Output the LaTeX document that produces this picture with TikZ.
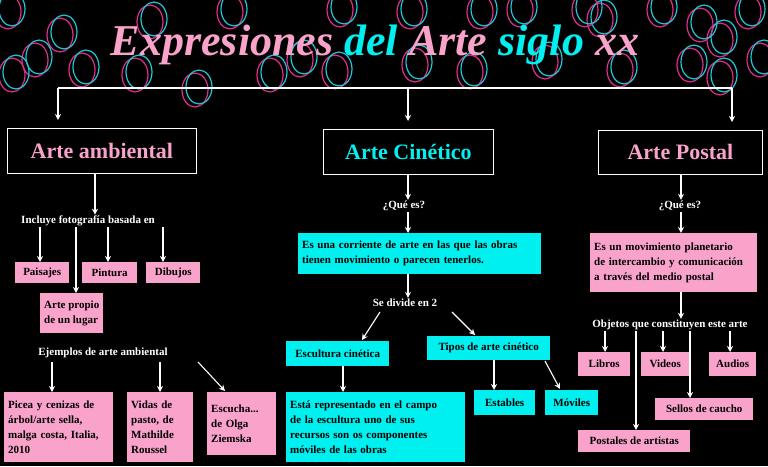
\documentclass[tikz,border=0pt]{standalone}
\usepackage{fontspec}
\setmainfont{Liberation Serif}
\usetikzlibrary{arrows.meta}
\begin{document}
\begin{tikzpicture}[x=1pt,y=-1pt,
  pnk/.style={fill=pinkc,draw=none,text=black,font=\bfseries\fontsize{11}{15}\selectfont,align=left,inner sep=4pt,anchor=north west},
  cyb/.style={fill=cyanc,draw=none,text=black,font=\bfseries\fontsize{11}{15}\selectfont,align=left,inner sep=4pt,anchor=north west},
  lbl/.style={text=white,font=\bfseries\fontsize{11}{13}\selectfont,inner sep=1pt},
  head/.style={draw=white,line width=0.8pt,anchor=north west},
  htxt/.style={font=\bfseries\fontsize{22}{24}\selectfont},
  arr/.style={draw=white,line width=1.1pt,-{Stealth[length=6pt,width=6pt]}},
  ring/.style={line width=1.2pt}]
\definecolor{pinkc}{HTML}{F9A3CB}
\definecolor{cyanc}{HTML}{00F0F0}
\definecolor{ringp}{HTML}{E0308A}
\definecolor{ringc}{HTML}{20C8D8}
\fill[black] (0,0) rectangle (768,466);
\useasboundingbox (0,0) rectangle (768,466);
% background rings
\foreach \x/\y in {8/12,60/35,35/60,82/70,12/75,150/22,195/90,135/75,270/75,300/60,340/10,335/72,415/65,410/12,470/72,480/12,520/10,545/62,600/20,620/70,660/10,690/65,720/40,748/12,760/60,585/10,700/25,230/12,720/78}{
  \draw[ringp,ring] (\x,\y) ellipse (13 and 17);
  \draw[ringc,ring] (\x+4,\y-3) ellipse (13 and 17);
}
% title
\node[font=\bfseries\itshape\fontsize{44}{46}\selectfont, inner sep=0pt] (title) at (375,45)
  {\textcolor{pinkc}{Expresiones} \textcolor{cyanc}{del} \textcolor{pinkc}{Arte} \textcolor{cyanc}{siglo} \textcolor{pinkc}{xx}};
% headers
\node[head,minimum width=189pt,minimum height=45pt] (amb) at (7,128) {};
\node[htxt,text=pinkc] at (amb.center) {Arte ambiental};
\node[head,minimum width=170pt,minimum height=45pt] (cin) at (323,129) {};
\node[htxt,text=cyanc] at (cin.center) {Arte Cinético};
\node[head,minimum width=164pt,minimum height=44pt] (pos) at (598,130) {};
\node[htxt,text=pinkc] at (pos.center) {Arte Postal};
\coordinate (tl) at (58,88); \coordinate (tm) at (408,88); \coordinate (tr) at (732,88);
\draw[white,line width=1.1pt] (tl) -- (tr);
\draw[arr] (tl) -- (58,120);
\draw[arr] (tm) -- (408,121);
\draw[arr] (tr) -- (732,122);
% ambiental
\node[lbl] (inc) at (88,221) {Incluye fotografía basada en};
\draw[arr] (95,174) -- (inc.north -| 95,0);
\node[pnk,minimum width=54pt,minimum height=21pt,align=center] (pai) at (15,262) {Paisajes};
\node[pnk,minimum width=55pt,minimum height=21pt,align=center] (pin) at (82,262) {Pintura};
\node[pnk,minimum width=54pt,minimum height=21pt,align=center] (dib) at (146,262) {Dibujos};
\node[pnk,minimum height=40pt] (pro) at (40,293) {Arte propio\\de un lugar};
\draw[arr] (inc.south -| 40,0) -- (pai.north -| 40,0);
\draw[arr] (inc.south -| 108,0) -- (pin.north -| 108,0);
\draw[arr] (inc.south -| 163,0) -- (dib.north -| 163,0);
\draw[arr] (inc.south -| 76,0) -- (pro.north -| 76,0);
\node[lbl] (eje) at (103,353) {Ejemplos de arte ambiental};
\node[pnk,minimum height=70pt,text width=101pt] (pic) at (4,392) {Picea y cenizas de\\árbol/arte sella,\\malga costa, Italia,\\2010};
\node[pnk,minimum height=70pt,text width=58pt] (vid) at (127,392) {Vidas de\\pasto, de\\Mathilde\\Roussel};
\node[pnk,minimum height=63pt,text width=61pt] (esc) at (207,392) {Escucha...\\de Olga\\Ziemska};
\draw[arr] (eje.south -| 52,0) ++(0,3) -- (pic.north -| 52,0);
\draw[arr] (eje.south -| 160,0) ++(0,3) -- (vid.north -| 160,0);
\draw[arr] (198,362) -- (225,391);
% cinetico
\node[lbl] (q1) at (404,206) {¿Qué es?};
\draw[arr] (cin.south -| 408,0) -- (q1.north -| 408,0);
\node[cyb,text width=235pt,minimum height=41pt] (def1) at (298,233) {Es una corriente de arte en las que las obras\\tienen movimiento o parecen tenerlos.};
\draw[arr] (q1.south -| 408,0) -- (def1.north -| 408,0);
\node[lbl] (div) at (405,303) {Se divide en 2};
\draw[arr] (def1.south -| 408,0) -- (div.north -| 408,0);
\node[cyb,minimum width=103pt,minimum height=25pt] (esc2) at (286,341) {Escultura cinética};
\node[cyb,minimum width=123pt,minimum height=24pt] (tip) at (427,336) {Tipos de arte cinético};
\draw[arr] (380,312) -- (362,340);
\draw[arr] (452,312) -- (475,335);
\node[cyb,text width=171pt,minimum height=70pt] (rep) at (286,392) {Está representado en el campo\\de la escultura uno de sus\\recursos son os componentes\\móviles de las obras};
\draw[arr] (esc2.south -| 343,0) -- (rep.north -| 343,0);
\node[cyb,minimum width=61pt,minimum height=25pt,align=center] (est) at (474,390) {Estables};
\node[cyb,minimum width=53pt,minimum height=25pt,align=center] (mov) at (545,390) {Móviles};
\draw[arr] (tip.south -| 494,0) -- (est.north -| 494,0);
\draw[arr] (545,361) -- (560,389);
% postal
\node[lbl] (q2) at (680,206) {¿Qué es?};
\draw[arr] (pos.south -| 681,0) -- (q2.north -| 681,0);
\node[pnk,text width=159pt,minimum height=59pt] (def2) at (590,233) {Es un movimiento planetario\\de intercambio y comunicación\\a través del medio postal};
\draw[arr] (q2.south -| 681,0) -- (def2.north -| 681,0);
\node[lbl] (obj) at (670,325) {Objetos que constituyen este arte};
\draw[arr] (def2.south -| 681,0) -- (obj.north -| 681,0);
\node[pnk,minimum width=52pt,minimum height=24pt] (lib) at (578,352) {Libros};
\node[pnk,minimum width=48pt,minimum height=24pt] (vdo) at (641,352) {Videos};
\node[pnk,minimum width=47pt,minimum height=24pt] (aud) at (709,352) {Audios};
\node[pnk,minimum width=98pt,minimum height=22pt,align=center] (sel) at (655,398) {Sellos de caucho};
\node[pnk,minimum width=112pt,minimum height=22pt,align=center] (pst) at (578,430) {Postales de artistas};
\draw[arr] (obj.south -| 605,0) -- (lib.north -| 605,0);
\draw[arr] (obj.south -| 663,0) -- (vdo.north -| 663,0);
\draw[arr] (obj.south -| 730,0) -- (aud.north -| 730,0);
\draw[arr] (obj.south -| 636,0) -- (pst.north -| 636,0);
\draw[arr] (obj.south -| 690,0) -- (sel.north -| 690,0);
\end{tikzpicture}
\end{document}
